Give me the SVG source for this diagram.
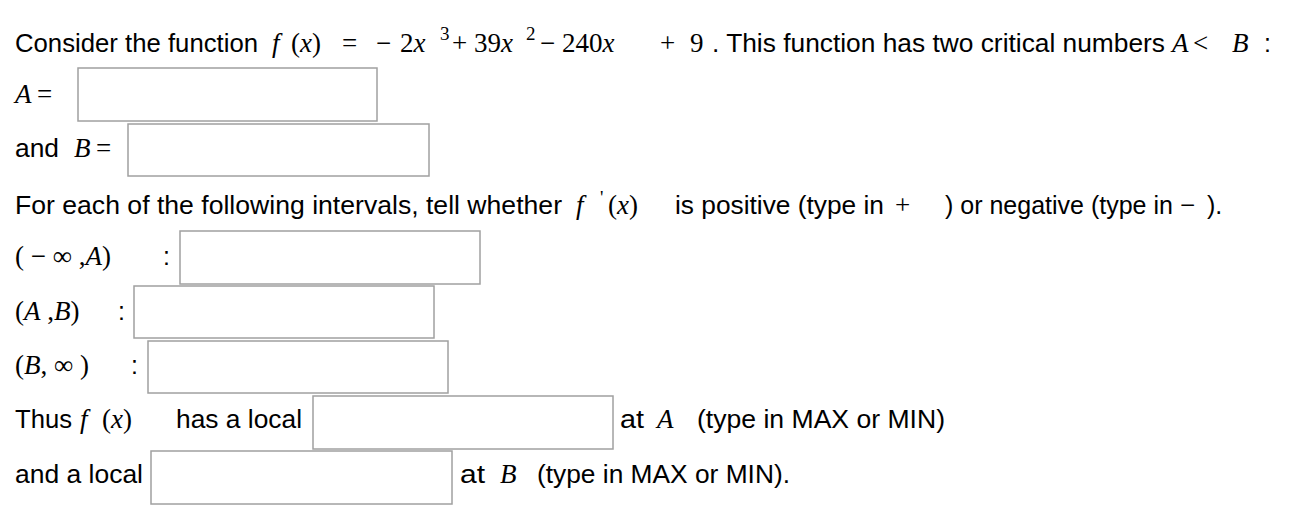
<svg xmlns="http://www.w3.org/2000/svg" width="1299" height="524" viewBox="0 0 1299 524">
<style>
.t{font-family:"Liberation Sans",Arial,sans-serif;font-size:25px;fill:#000}
.m{font-family:"Liberation Serif","Times New Roman",serif;font-size:27px;fill:#000}
.i{font-style:italic}
.s{font-size:19px}
.box{fill:#fff;stroke:#a0a0a0;stroke-width:1.5}
</style>
<rect width="1299" height="524" fill="#fff"/>
<text x="15" y="52" class="t" textLength="243" lengthAdjust="spacingAndGlyphs">Consider the function</text>
<g class="m">
<text x="272" y="52" class="m i">f</text>
<text x="291" y="52" class="m">(<tspan class="i">x</tspan>)</text>
<text x="342" y="52" class="m">=</text>
<text x="376" y="52" class="m">−</text>
<text x="400" y="52" class="m">2<tspan class="i">x</tspan></text>
<text x="440" y="40" class="m s">3</text>
<text x="452" y="52" class="m">+ 39<tspan class="i">x</tspan></text>
<text x="526" y="40" class="m s">2</text>
<text x="540" y="52" class="m">− 240<tspan class="i">x</tspan></text>
<text x="660" y="52" class="m">+</text>
<text x="690" y="52" class="m">9</text>
</g>
<text x="712" y="52" class="t" textLength="453" lengthAdjust="spacingAndGlyphs">. This function has two critical numbers</text>
<text x="1172" y="52" class="m i">A</text>
<text x="1193" y="52" class="m">&lt;</text>
<text x="1232" y="52" class="m i">B</text>
<text x="1264" y="52" class="t">:</text>
<text x="15" y="103" class="m i">A</text>
<text x="37" y="103" class="m">=</text>
<rect class="box" x="78" y="68" width="299" height="53"/>
<text x="15" y="157" class="t" textLength="44" lengthAdjust="spacingAndGlyphs">and</text>
<text x="74" y="157" class="m i">B</text>
<text x="96" y="157" class="m">=</text>
<rect class="box" x="128" y="124" width="301" height="52"/>
<text x="15" y="214" class="t" textLength="547" lengthAdjust="spacingAndGlyphs">For each of the following intervals, tell whether</text>
<text x="576" y="214" class="m i">f</text>
<text x="600" y="204" class="m s">'</text>
<text x="608" y="214" class="m">(<tspan class="i">x</tspan>)</text>
<text x="675" y="214" class="t" textLength="209" lengthAdjust="spacingAndGlyphs">is positive (type in</text>
<text x="895" y="214" class="m">+</text>
<text x="945" y="214" class="t">) or negative (type in</text>
<text x="1180" y="214" class="m">−</text>
<text x="1207" y="214" class="t">).</text>
<text x="15" y="265" class="m">( − ∞ ,<tspan class="i">A</tspan>)</text>
<text x="163" y="265" class="t">:</text>
<rect class="box" x="180" y="231" width="300" height="53"/>
<text x="15" y="320" class="m">(<tspan class="i">A</tspan> ,<tspan class="i">B</tspan>)</text>
<text x="118" y="320" class="t">:</text>
<rect class="box" x="134" y="286" width="300" height="52"/>
<text x="15" y="374" class="m">(<tspan class="i">B</tspan>, ∞ )</text>
<text x="131" y="374" class="t">:</text>
<rect class="box" x="148" y="341" width="300" height="52"/>
<text x="15" y="428" class="t" textLength="57" lengthAdjust="spacingAndGlyphs">Thus</text>
<text x="80" y="428" class="m i">f</text>
<text x="102" y="428" class="m">(<tspan class="i">x</tspan>)</text>
<text x="176" y="428" class="t" textLength="126" lengthAdjust="spacingAndGlyphs">has a local</text>
<rect class="box" x="313" y="396" width="300" height="53"/>
<text x="620" y="428" class="t" textLength="24" lengthAdjust="spacingAndGlyphs">at</text>
<text x="657" y="428" class="m i">A</text>
<text x="697" y="428" class="t" textLength="248" lengthAdjust="spacingAndGlyphs">(type in MAX or MIN)</text>
<text x="15" y="483" class="t" textLength="128" lengthAdjust="spacingAndGlyphs">and a local</text>
<rect class="box" x="151" y="451" width="301" height="53"/>
<text x="460" y="483" class="t" textLength="25" lengthAdjust="spacingAndGlyphs">at</text>
<text x="500" y="483" class="m i">B</text>
<text x="537" y="483" class="t" textLength="253" lengthAdjust="spacingAndGlyphs">(type in MAX or MIN).</text>
</svg>
